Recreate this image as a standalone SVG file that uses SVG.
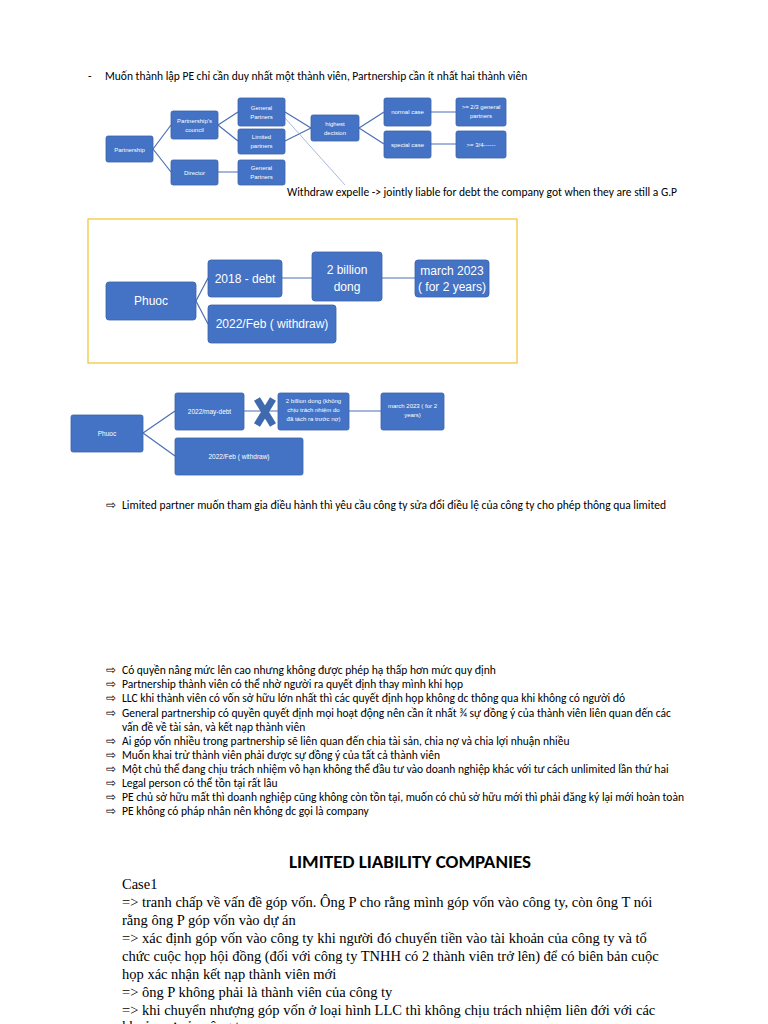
<svg xmlns="http://www.w3.org/2000/svg" width="768" height="1024" viewBox="0 0 768 1024">
<style>
.b{fill:#4472c4;stroke:#3a62a8;stroke-width:0.8}
.w{fill:#fff;font-family:"Liberation Sans",Calibri,sans-serif;text-anchor:middle}
.t{font-family:Carlito,"Liberation Sans",sans-serif;font-size:11.5px;fill:#000}
.c{stroke:#4a6fb5;stroke-width:1.2;fill:none}
.s{font-family:"Liberation Serif",serif;font-size:14.5px;fill:#000}
</style>
<rect width="768" height="1024" fill="#fff"/>
<text class="t" x="88" y="80">-</text>
<text class="t" x="105" y="80">Muốn thành lập PE chỉ cần duy nhất một thành viên, Partnership cần ít nhất hai thành viên</text>
<g id="connectors1">
<path class="c" d="M153 149 L171 125 M153 149 L171 172 M218 125 L238 112 M218 125 L238 141 M218 172 L238 172 M285 112 L311 128 M285 141 L311 128 M359 128 L384 112 M359 128 L384 144 M431 112 L456 112 M431 144 L456 144"/>
<path d="M285 118 L345 185" stroke="#8fa8d8" stroke-width="0.8"/>
</g>
<g id="n-partnership"><rect class="b" x="106" y="136" width="47" height="26" rx="2"/><text class="w" x="129.5" y="152" font-size="6">Partnership</text></g>
<g id="n-council"><rect class="b" x="171" y="111" width="47" height="28" rx="2"/><text class="w" x="194.5" y="123" font-size="6">Partnership's</text><text class="w" x="194.5" y="132" font-size="6">council</text></g>
<g id="n-director"><rect class="b" x="171" y="160" width="47" height="25" rx="2"/><text class="w" x="194.5" y="175" font-size="6">Director</text></g>
<g id="n-gp1"><rect class="b" x="238" y="98" width="47" height="28" rx="2"/><text class="w" x="261.5" y="110" font-size="6">General</text><text class="w" x="261.5" y="119" font-size="6">Partners</text></g>
<g id="n-lp"><rect class="b" x="238" y="129" width="47" height="25" rx="2"/><text class="w" x="261.5" y="139" font-size="6">Limited</text><text class="w" x="261.5" y="148" font-size="6">partners</text></g>
<g id="n-gp2"><rect class="b" x="238" y="160" width="47" height="25" rx="2"/><text class="w" x="261.5" y="170" font-size="6">General</text><text class="w" x="261.5" y="179" font-size="6">Partners</text></g>
<g id="n-highest"><rect class="b" x="311" y="115" width="48" height="26" rx="2"/><text class="w" x="335" y="126" font-size="6">highest</text><text class="w" x="335" y="135" font-size="6">decision</text></g>
<g id="n-normal"><rect class="b" x="384" y="98" width="47" height="28" rx="2"/><text class="w" x="407.5" y="114" font-size="6">normal case</text></g>
<g id="n-special"><rect class="b" x="384" y="131" width="47" height="27" rx="2"/><text class="w" x="407.5" y="147" font-size="6">special case</text></g>
<g id="n-23"><rect class="b" x="456" y="98" width="50" height="28" rx="2"/><text class="w" x="481" y="109" font-size="6">&gt;= 2/3 general</text><text class="w" x="481" y="118" font-size="6">partners</text></g>
<g id="n-34"><rect class="b" x="456" y="131" width="50" height="27" rx="2"/><text class="w" x="481" y="147" font-size="6">&gt;= 3/4------</text></g>
<text class="t" x="287" y="196">Withdraw expelle -&gt; jointly liable for debt the company got when they are still a G.P</text>

<rect x="88" y="219" width="429" height="144" fill="none" stroke="#f2c12e" stroke-width="1.2"/>
<g id="connectors2">
<path class="c" d="M196 301 L208 278 M196 301 L208 324 M282 278 L312 278 M382 278 L415 278"/>
</g>
<g id="n-phuoc1"><rect class="b" x="106" y="282" width="90" height="38" rx="3"/><text class="w" x="151" y="305" font-size="12">Phuoc</text></g>
<g id="n-2018"><rect class="b" x="208" y="260" width="74" height="37" rx="3"/><text class="w" x="245" y="283" font-size="12">2018 - debt</text></g>
<g id="n-2b"><rect class="b" x="312" y="252" width="70" height="49" rx="3"/><text class="w" x="347" y="274" font-size="12">2 billion</text><text class="w" x="347" y="291" font-size="12">dong</text></g>
<g id="n-march1"><rect class="b" x="415" y="260" width="74" height="37" rx="3"/><text class="w" x="452" y="275" font-size="12">march 2023</text><text class="w" x="452" y="291" font-size="12">( for 2 years)</text></g>
<g id="n-feb1"><rect class="b" x="208" y="305" width="128" height="38" rx="3"/><text class="w" x="272" y="328" font-size="12">2022/Feb ( withdraw)</text></g>

<g id="connectors3">
<path class="c" d="M143 433 L175 411 M143 433 L175 456 M244 411 L278 411 M349 411 L381 411"/>
</g>
<g id="n-phuoc2"><rect class="b" x="71" y="415" width="72" height="37" rx="2"/><text class="w" x="107" y="436" font-size="6.5">Phuoc</text></g>
<g id="n-may"><rect class="b" x="175" y="393" width="69" height="37" rx="2"/><text class="w" x="209.5" y="414" font-size="6.5">2022/may-debt</text></g>
<path id="x-mark" d="M257 399 L273 425 M273 399 L257 425" stroke="#3f6ab0" stroke-width="7" stroke-linecap="butt"/>
<g id="n-2b2"><rect class="b" x="278" y="393" width="71" height="37" rx="2"/><text class="w" x="313.5" y="403" font-size="6">2 billion dong (không</text><text class="w" x="313.5" y="412" font-size="6">chịu trách nhiệm do</text><text class="w" x="313.5" y="421" font-size="6">đã tách ra trước nợ)</text></g>
<g id="n-march2"><rect class="b" x="381" y="393" width="63" height="37" rx="2"/><text class="w" x="412.5" y="408" font-size="6">march 2023 ( for 2</text><text class="w" x="412.5" y="417" font-size="6">years)</text></g>
<g id="n-feb2"><rect class="b" x="175" y="438" width="128" height="37" rx="2"/><text class="w" x="239" y="459" font-size="6.5">2022/Feb ( withdraw)</text></g>

<g class="t">
<text x="106" y="509">⇨</text><text x="122" y="509">Limited partner muốn tham gia điều hành thì yêu cầu công ty sửa đổi điều lệ của công ty cho phép thông qua limited</text>
<text x="106" y="674">⇨</text><text x="122" y="674">Có quyền nâng mức lên cao nhưng không được phép hạ thấp hơn mức quy định</text>
<text x="106" y="688">⇨</text><text x="122" y="688">Partnership thành viên có thể nhờ người ra quyết định thay mình khi họp</text>
<text x="106" y="702">⇨</text><text x="122" y="702">LLC khi thành viên có vốn sở hữu lớn nhất thì các quyết định họp không dc thông qua khi không có người đó</text>
<text x="106" y="717">⇨</text><text x="122" y="717">General partnership có quyền quyết định mọi hoạt động nên cần ít nhất ¾ sự đồng ý của thành viên liên quan đến các</text>
<text x="122" y="731">vấn đề về tài sản, và kết nạp thành viên</text>
<text x="106" y="745">⇨</text><text x="122" y="745">Ai góp vốn nhiều trong partnership sẽ liên quan đến chia tài sản, chia nợ và chia lợi nhuận nhiều</text>
<text x="106" y="759">⇨</text><text x="122" y="759">Muốn khai trừ thành viên phải được sự đồng ý của tất cả thành viên</text>
<text x="106" y="773">⇨</text><text x="122" y="773">Một chủ thể đang chịu trách nhiệm vô hạn không thể đầu tư vào doanh nghiệp khác với tư cách unlimited lần thứ hai</text>
<text x="106" y="787">⇨</text><text x="122" y="787">Legal person có thể tồn tại rất lâu</text>
<text x="106" y="801">⇨</text><text x="122" y="801">PE chủ sở hữu mất thì doanh nghiệp cũng không còn tồn tại, muốn có chủ sở hữu mới thì phải đăng ký lại mới hoàn toàn</text>
<text x="106" y="815">⇨</text><text x="122" y="815">PE không có pháp nhân nên không dc gọi là company</text>
</g>
<text x="410" y="868" text-anchor="middle" font-family="Carlito,'Liberation Sans',sans-serif" font-size="19" font-weight="bold">LIMITED LIABILITY COMPANIES</text>
<g class="s">
<text x="122" y="889">Case1</text>
<text x="122" y="907">=&gt; tranh chấp về vấn đề góp vốn. Ông P cho rằng mình góp vốn vào công ty, còn ông T nói</text>
<text x="122" y="925">rằng ông P góp vốn vào dự án</text>
<text x="122" y="943">=&gt; xác định góp vốn vào công ty khi người đó chuyển tiền vào tài khoản của công ty và tổ</text>
<text x="122" y="961">chức cuộc họp hội đồng (đối với công ty TNHH có 2 thành viên trở lên) để có biên bản cuộc</text>
<text x="122" y="979">họp xác nhận kết nạp thành viên mới</text>
<text x="122" y="997">=&gt; ông P không phải là thành viên của công ty</text>
<text x="122" y="1015">=&gt; khi chuyển nhượng góp vốn ở loại hình LLC thì không chịu trách nhiệm liên đới với các</text>
<text x="122" y="1031">khoản nợ của công ty</text>
</g>
</svg>
